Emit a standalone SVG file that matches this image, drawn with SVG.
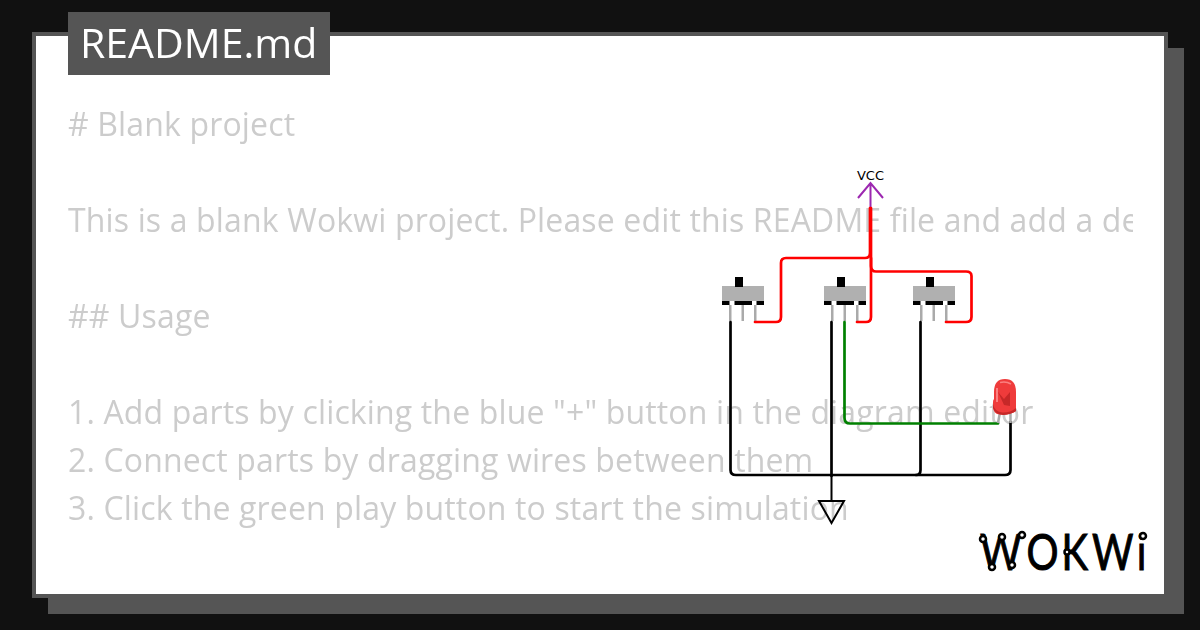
<svg xmlns="http://www.w3.org/2000/svg" width="1200" height="630" viewBox="0 0 1200 630">
<defs>
<style>
.md{font-family:"Open Sans","Noto Sans",sans-serif;font-size:32px;fill:#ccc;letter-spacing:.15px}
.w{fill:none;stroke-width:2.700;stroke-linecap:round;stroke-linejoin:round}
.pin{fill:#aaa}
</style>
<filter id="gray" x="0" y="0" width="1" height="1" color-interpolation-filters="sRGB"><feOffset dx="0" dy="0"/></filter>
<clipPath id="c"><rect x="60" y="90" width="1073" height="450"/></clipPath>
<g id="sw">
<rect x="0" y="9" width="42" height="15" fill="#b0b0b0"/>
<rect x="13" y="0" width="8" height="10" fill="#000"/>
<rect x="0" y="24" width="7.500" height="4" fill="#000"/><rect x="12.500" y="24" width="17.500" height="4" fill="#000"/><rect x="34.500" y="24" width="7.500" height="4" fill="#000"/>
<rect class="pin" x="7" y="28" width="2.500" height="16"/><rect class="pin" x="19.500" y="28" width="2.500" height="16"/><rect class="pin" x="32" y="28" width="2.500" height="16"/>
</g>
</defs>
<rect width="1200" height="630" fill="#111"/>
<rect x="48" y="48" width="1136" height="566" fill="#555"/>
<rect x="34" y="34" width="1132" height="562" fill="#fff" stroke="#555" stroke-width="4"/>
<g id="readme-tab"><rect x="68" y="12" width="262" height="63" fill="#555"/>
<g filter="url(#gray)"><text x="80" y="58" font-family="Open Sans,Noto Sans,sans-serif" font-size="41" fill="#fff">README.md</text></g></g>
<g id="readme-text" clip-path="url(#c)"><g filter="url(#gray)">
<text class="md" x="68" y="136">#&#160;Blank project</text>
<text class="md" x="68" y="232">This is a blank Wokwi project. Please edit this README file and add a de</text>
<text class="md" x="68" y="328">##&#160;Usage</text>
<text class="md" x="68" y="424">1. Add parts by clicking the blue "+" button in the diagram editor</text>
<text class="md" x="68" y="472">2. Connect parts by dragging wires between them</text>
<text class="md" x="68" y="520">3. Click the green play button to start the simulation</text>
</g></g>
<g id="sw1"><use href="#sw" x="722" y="277"/></g>
<g id="sw2"><use href="#sw" x="824" y="277"/></g>
<g id="sw3"><use href="#sw" x="913" y="277"/></g>
<g id="vcc">
<text x="870.500" y="180" font-family="DejaVu Sans,sans-serif" font-size="11.500" text-anchor="middle" fill="#000" textLength="27" lengthAdjust="spacingAndGlyphs">VCC</text>
<path d="M858 198L870.500 183L883 198M870.500 183V208" fill="none" stroke="#9c27b0" stroke-width="2"/>
</g>
<g id="gnd"><path d="M831.500 476V501M819 501H844L831.500 523Z" fill="none" stroke="#000" stroke-width="2"/></g>
<g id="connectors">
<path class="w" stroke="#f00" d="M870 208V253Q870 258 865 258H786Q781 258 781 263V317Q781 322 776 322H755"/>
<path class="w" stroke="#f00" d="M871 208V317Q871 322 866 322H857"/>
<path class="w" stroke="#f00" d="M871 258V266Q871 271.500 876 271.500H966Q971.500 271.500 971.500 276V317Q971.500 322 966 322H946"/>
<path class="w" stroke="#000" d="M730.500 322V470Q730.500 475 736 475H1005Q1010.500 475 1010.500 470V422"/>
<path class="w" stroke="#000" d="M831.500 322V476"/>
<path class="w" stroke="#000" d="M920.500 322V470Q920.500 475 916 475"/>
<path class="w" stroke="#008000" d="M844.500 322V418Q844.500 423.500 850 423.500H998"/>
</g>
<g id="led">
<path d="M1000 412L998 423" stroke="#aaa" stroke-width="2.500" fill="none"/><path d="M1010.500 412V423" stroke="#aaa" stroke-width="2.500"/>
<path d="M994 392Q994 379 1005 379Q1016 379 1016 392V410Q1016 412 1012 413Q1004 416 997 414Q993 412 993 406V402Q993 400 994 399Z" fill="#ef3b3b"/>
<path d="M993 404Q994 411 1002 412.500Q1010 413 1016 408V411Q1010 415 1003 415Q995 414 993 408Z" fill="#c62828"/>
<path d="M998 392H1010V406L1004 405Z" fill="#c62828"/>
<path d="M998 392L1004 399L1010 392Z" fill="#ef3b3b"/>
<path d="M997 388V402" stroke="#ff9e9e" stroke-width="2" opacity=".7"/>
<path d="M1000 382.500Q1006 381 1011 384" stroke="#ff9e9e" stroke-width="1.500" fill="none" opacity=".7"/>
</g>
<g id="logo">
<text transform="scale(.8 1)" x="1225 1283 1327 1365 1421" y="570" font-family="Lato,sans-serif" font-size="50" fill="#000" stroke="#000" stroke-width="1">WOKWi</text>
<g fill="#fff" stroke="#000" stroke-width="2.500"><circle cx="983" cy="539" r="3"/><circle cx="1002" cy="537" r="3"/><circle cx="1022" cy="535" r="3"/><circle cx="992" cy="567" r="3"/><circle cx="1012" cy="565" r="3"/><circle cx="1067" cy="552" r="2.500"/><circle cx="1143" cy="536" r="3"/></g>
</g>
</svg>
